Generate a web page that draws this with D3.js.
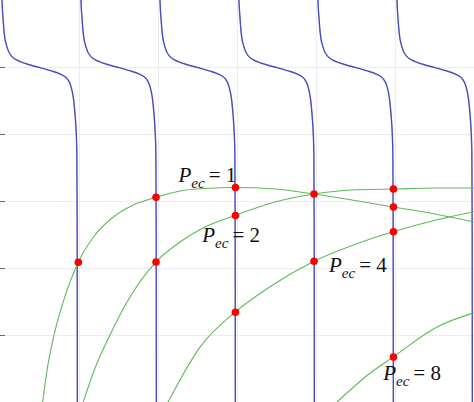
<!DOCTYPE html>
<html>
<head>
<meta charset="utf-8">
<script src="https://cdn.jsdelivr.net/npm/d3@7"></script>
<style>
  body { margin: 0; background: #fff; }
  svg { display: block; }
</style>
</head>
<body>
<svg id="chart" width="474" height="402"></svg>
<script>
// ------------------------------------------------------------------
// data (x in grid units, y in grid units)
// ------------------------------------------------------------------

// left asymptote of every blue branch
var branchStarts = [-0.02, 0.98, 1.98, 2.98, 3.98, 4.98];

// shape of one blue branch: [distance from its left asymptote, value]
var branchProfile = [
    [0.040, 1.3], [0.045, 1.0], [0.057, 0.75], [0.073, 0.51], [0.108, 0.30],
    [0.171, 0.155], [0.276, 0.08], [0.403, 0.03], [0.529, -0.01], [0.656, -0.055],
    [0.782, -0.105], [0.867, -0.17], [0.918, -0.29], [0.952, -0.49], [0.972, -0.74],
    [0.985, -0.99], [0.993, -1.3], [0.997, -2.5], [0.999, -5.2]
];

var pe1 = [
    [0.540, -5.0], [0.599, -4.497], [0.684, -4.0], [0.801, -3.503], [0.991, -2.915],
    [1.203, -2.507], [1.414, -2.258], [1.687, -2.06], [1.975, -1.945], [2.278, -1.851],
    [2.595, -1.813], [2.975, -1.799], [3.481, -1.821], [3.975, -1.896], [4.456, -1.985],
    [4.975, -2.09], [5.506, -2.194], [6.0, -2.313]
];
var pe2 = [
    [1.054, -5.0], [1.203, -4.493], [1.392, -4.0], [1.608, -3.507], [1.975, -2.91],
    [2.278, -2.612], [2.595, -2.388], [2.975, -2.216], [3.481, -2.015], [3.975, -1.896],
    [4.456, -1.836], [4.975, -1.821], [5.506, -1.806], [6.0, -1.806]
];
var pe4 = [
    [2.127, -5.0], [2.532, -4.18], [2.975, -3.66], [3.418, -3.28], [3.975, -2.90],
    [4.608, -2.60], [4.975, -2.46], [5.532, -2.28], [6.0, -2.16]
];
var pe8 = [
    [4.266, -5.0], [4.684, -4.57], [4.975, -4.33], [5.532, -3.88], [6.0, -3.67]
];

// red intersection points
var roots = [
    [0.991, -2.915], [1.975, -1.945], [2.98, -1.799], [3.975, -1.896], [4.98, -2.09],
    [1.975, -2.91], [2.98, -2.216], [4.98, -1.821],
    [2.98, -3.66], [3.975, -2.90], [4.98, -2.46],
    [4.98, -4.33]
];

var peValues = [1, 2, 4, 8];
var xTicks = [1, 2, 3, 4, 5];
var yTicks = [0, -1, -2, -3, -4];

// label anchors (data coords, start of the "P")
var labelAt = { 1: [2.26, -1.71], 2: [2.56, -2.61], 4: [4.165, -3.06], 8: [4.85, -4.67] };

// ------------------------------------------------------------------
var W = 474, H = 402;
var svg = d3.select("#chart");

var x = d3.scaleLinear().domain([0, 6]).range([0, W]);
var y = d3.scaleLinear().domain([1, -5]).range([0, H]);

svg.append("defs").append("clipPath").attr("id", "plotclip")
    .append("rect").attr("width", W).attr("height", H);

// grid
svg.append("g")
    .attr("transform", "translate(0," + H + ")")
    .call(d3.axisBottom(x).tickValues(xTicks).tickSize(-H).tickFormat(""))
    .call(function(g) { g.select(".domain").remove(); })
    .selectAll("line").attr("stroke", "#ececf1");

svg.append("g")
    .call(d3.axisRight(y).tickValues(yTicks).tickSize(W).tickFormat(""))
    .call(function(g) { g.select(".domain").remove(); })
    .selectAll("line").attr("stroke", "#ececf1");

// little tick marks on the left edge
svg.append("g")
    .call(d3.axisRight(y).tickValues(yTicks).tickSize(5).tickFormat(""))
    .call(function(g) { g.select(".domain").remove(); })
    .selectAll("line").attr("stroke", "#666").attr("stroke-width", 1);

var plot = svg.append("g").attr("clip-path", "url(#plotclip)");

var line = d3.line()
    .x(function(d) { return x(d[0]); })
    .y(function(d) { return y(d[1]); })
    .curve(d3.curveMonotoneX);

// blue branches
var branches = branchStarts.map(function(a) {
    return branchProfile.map(function(p) { return [a + p[0], p[1]]; });
});

plot.selectAll("path.branch")
    .data(branches)
    .enter()
    .append("path")
    .attr("class", "branch")
    .attr("fill", "none")
    .attr("stroke", "#5358d2")
    .attr("stroke-width", 1.4)
    .attr("d", line);

plot.selectAll("path.branchcore")
    .data(branches)
    .enter()
    .append("path")
    .attr("class", "branchcore")
    .attr("fill", "none")
    .attr("stroke", "#3a3088")
    .attr("stroke-opacity", 0.5)
    .attr("stroke-width", 0.7)
    .attr("d", line);

// green curves
var greenCurves = [pe1, pe2, pe4, pe8];

plot.selectAll("path.pe")
    .data(greenCurves)
    .enter()
    .append("path")
    .attr("class", "pe")
    .attr("fill", "none")
    .attr("stroke", "#5fba58")
    .attr("stroke-width", 1.1)
    .attr("d", line);

// red dots
plot.selectAll("circle.root")
    .data(roots)
    .enter()
    .append("circle")
    .attr("class", "root")
    .attr("fill", "#ff0000")
    .attr("cx", function(d) { return x(d[0]); })
    .attr("cy", function(d) { return y(d[1]); })
    .attr("r", 3.8);

// labels  P_ec = n
var labels = svg.selectAll("text.pelabel")
    .data(peValues)
    .enter()
    .append("text")
    .attr("class", "pelabel")
    .attr("x", function(d) { return x(labelAt[d][0]); })
    .attr("y", function(d) { return y(labelAt[d][1]); })
    .attr("font-family", "'Liberation Serif', 'DejaVu Serif', serif")
    .attr("font-size", 21)
    .attr("fill", "#111");

labels.append("tspan").attr("font-style", "italic").text("P");
labels.append("tspan").attr("font-style", "italic").attr("font-size", 15)
    .attr("dy", 6).text("ec");
labels.append("tspan").attr("dy", -6).attr("dx", 4).text(function(d) { return "= " + d; });
</script>
</body>
</html>
